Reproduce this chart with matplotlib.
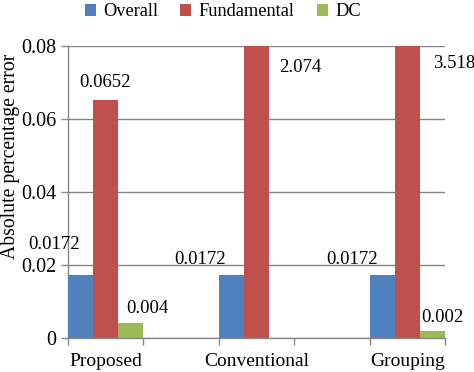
import numpy as np
import matplotlib
matplotlib.use('Agg')
import matplotlib.pyplot as plt

plt.rcParams['font.family'] = ['Liberation Serif', 'DejaVu Serif']

# Data
categories = ['Proposed', 'Conventional', 'Grouping']
overall = [0.0172, 0.0172, 0.0172]
fundamental = [0.0652, 2.074, 3.518]
dc = [0.004, 0.0, 0.002]
series_names = ['Overall', 'Fundamental', 'DC']
colors = ['#4F81BD', '#C0504D', '#9BBB59']

# label placement (data coords) for each series' value labels
overall_lbl_pos = [(-0.69, 0.0255), (1.25, 0.0214), (3.27, 0.0214)]
fund_lbl_pos = [(-0.01, 0.0699), (2.58, 0.0740), (4.62, 0.0753)]
dc_lbl_pos = [(0.55, 0.0082), None, (4.47, 0.0055)]

fig = plt.figure(figsize=(4.74, 3.72), dpi=100)
ax = fig.add_axes([0.1435, 0.0914, 0.7955, 0.7850])

x = np.arange(len(categories)) * 2
w = 1 / 3
for k, (vals, c, name) in enumerate(zip([overall, fundamental, dc], colors, series_names)):
    ax.bar(x + (k - 1) * w, vals, width=w, color=c, label=name, zorder=3)

ax.set_ylim(0, 0.08)
ax.set_xlim(-0.5, x[-1] + 0.5)
ax.set_yticks([0, 0.02, 0.04, 0.06, 0.08])
ax.set_yticklabels(['0', '0.02', '0.04', '0.06', '0.08'])
ax.yaxis.grid(True, color='#868686', linewidth=1.0, zorder=0)

ax.set_xticks(x)
ax.set_xticklabels(categories)
ax.set_xticks(np.arange(-0.5, x[-1] + 1, 1), minor=True)
ax.tick_params(axis='x', which='major', length=0, labelsize=14, pad=11)
ax.tick_params(axis='x', which='minor', length=5, color='#868686', width=1)
ax.tick_params(axis='y', length=5, color='#868686', width=1, labelsize=14.5)

for s in ['top', 'right']:
    ax.spines[s].set_visible(False)
for s in ['left', 'bottom']:
    ax.spines[s].set_color('#868686')
    ax.spines[s].set_linewidth(1.0)
ax.spines['bottom'].set_zorder(4)

ax.set_ylabel('Absolute percentage error', fontsize=14.2)
ax.yaxis.set_label_coords(-0.127, 0.623)

for vals, poss in [(overall, overall_lbl_pos), (fundamental, fund_lbl_pos), (dc, dc_lbl_pos)]:
    for v, p in zip(vals, poss):
        if p is None:
            continue
        ax.text(p[0], p[1], '{:g}'.format(v), ha='center', va='center',
                fontsize=13.5, clip_on=False, zorder=5)

fig.legend(loc='upper center', bbox_to_anchor=(0.47, 1.035), ncol=3, frameon=False,
           fontsize=13.2, handlelength=0.6, handleheight=0.6, handletextpad=0.4,
           columnspacing=1.2)

fig.savefig('out.png', dpi=100)
